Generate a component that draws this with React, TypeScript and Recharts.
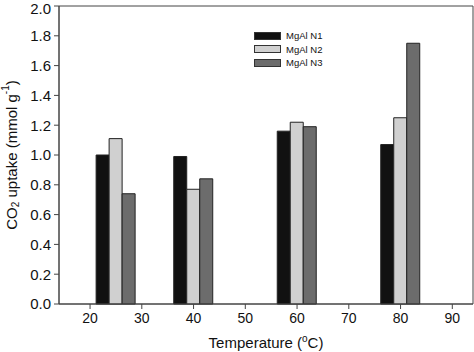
import { BarChart, Bar, XAxis, YAxis, ReferenceArea } from "recharts";

const temps = [25, 40, 60, 80];
const n1 = [1.0, 0.99, 1.16, 1.07];
const n2 = [1.11, 0.77, 1.22, 1.25];
const n3 = [0.74, 0.84, 1.19, 1.75];
const xTicks = [20, 30, 40, 50, 60, 70, 80, 90];
const yTicks = [0, 0.2, 0.4, 0.6, 0.8, 1.0, 1.2, 1.4, 1.6, 1.8, 2.0];

const SERIES = [
  { key: "n1", name: "MgAl N1", color: "#111111" },
  { key: "n2", name: "MgAl N2", color: "#d0d0d0" },
  { key: "n3", name: "MgAl N3", color: "#6c6c6c" },
];

const data = temps.map((t, i) => ({ t, n1: n1[i], n2: n2[i], n3: n3[i] }));

const FONT = "Liberation Sans, Arial, sans-serif";
const AXIS = "#444";

function LegendBox() {
  return (
    <div
      style={{
        position: "absolute",
        left: 254,
        top: 29,
        fontFamily: FONT,
        fontSize: 9.5,
        color: "#111",
        lineHeight: "13.5px",
      }}
    >
      {SERIES.map((s) => (
        <div key={s.key} style={{ display: "flex", alignItems: "center", height: 13.5 }}>
          <span
            style={{
              display: "inline-block",
              width: 25,
              height: 6,
              background: s.color,
              border: "1px solid #333",
              marginRight: 5,
            }}
          />
          {s.name}
        </div>
      ))}
    </div>
  );
}

function YLabel({ viewBox }: any) {
  const cx = 11;
  const cy = viewBox.y + viewBox.height / 2;
  return (
    <text
      x={cx}
      y={cy}
      transform={`rotate(-90 ${cx} ${cy})`}
      textAnchor="middle"
      dominantBaseline="central"
      fontFamily={FONT}
      fontSize={15}
      fill="#111"
    >
      CO
      <tspan fontSize={10} dy={4}>2</tspan>
      <tspan dy={-4}> uptake (mmol g</tspan>
      <tspan fontSize={10} dy={-6}>-1</tspan>
      <tspan dy={6}>)</tspan>
    </text>
  );
}

function XLabel({ viewBox }: any) {
  const cx = viewBox.x + viewBox.width / 2;
  return (
    <text x={cx} y={348} textAnchor="middle" fontFamily={FONT} fontSize={15} fill="#111">
      Temperature (
      <tspan fontSize={10} dy={-6}>o</tspan>
      <tspan dy={6}>C)</tspan>
    </text>
  );
}

export default function App() {
  return (
    <div style={{ position: "absolute", left: 0, top: 0, width: 474, height: 352, background: "#fff" }}>
      <BarChart
        width={474}
        height={352}
        data={data}
        margin={{ top: 6, right: 1, left: 0, bottom: 0 }}
        barSize={13}
        barGap={0}
      >
        <ReferenceArea x1={14} x2={94} y1={0} y2={2} fill="none" stroke={AXIS} strokeWidth={1} />
        <XAxis
          dataKey="t"
          type="number"
          domain={[14, 94]}
          ticks={xTicks}
          allowDataOverflow
          height={48}
          tickSize={5}
          tickMargin={4}
          stroke={AXIS}
          tick={{ fill: "#111", fontSize: 14, fontFamily: FONT }}
          label={<XLabel />}
        />
        <YAxis
          type="number"
          domain={[0, 2]}
          ticks={yTicks}
          width={59}
          tickSize={5}
          tickMargin={3}
          stroke={AXIS}
          tickFormatter={(v: number) => v.toFixed(1)}
          tick={{ fill: "#111", fontSize: 15, fontFamily: FONT }}
          label={<YLabel />}
        />
        {SERIES.map((s) => (
          <Bar
            key={s.key}
            dataKey={s.key}
            name={s.name}
            fill={s.color}
            stroke="#222"
            strokeWidth={1}
            isAnimationActive={false}
          />
        ))}
      </BarChart>
      <LegendBox />
    </div>
  );
}
